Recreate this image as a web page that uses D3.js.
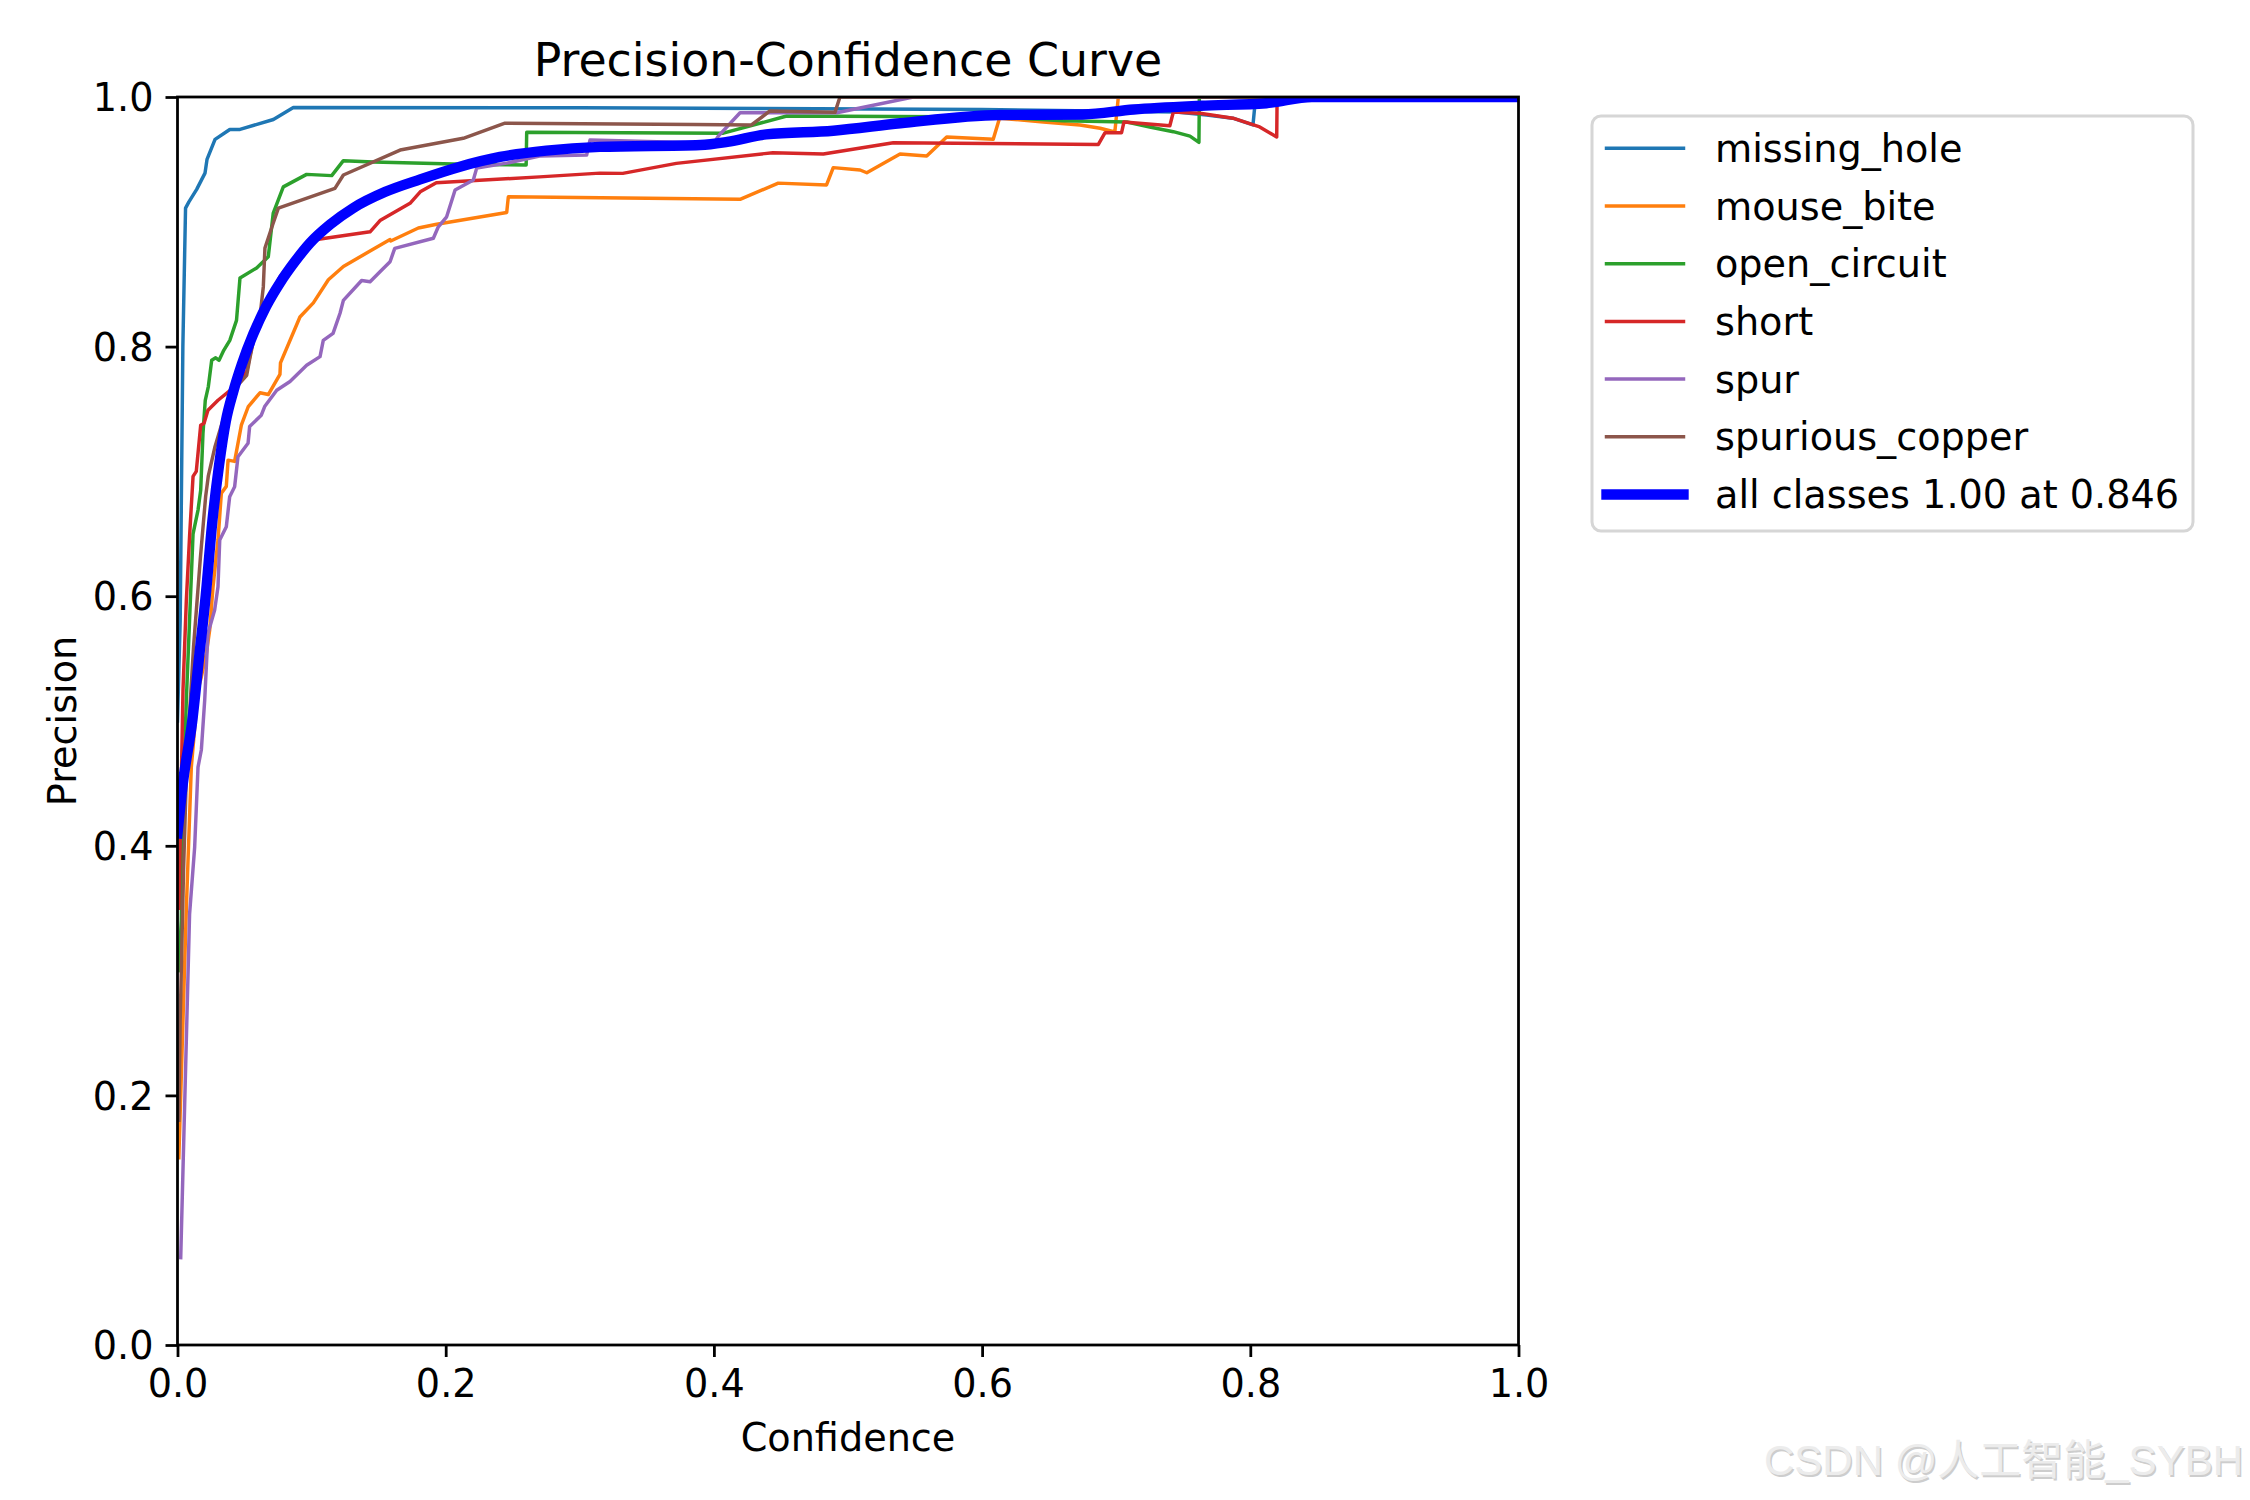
<!DOCTYPE html>
<html>
<head>
<meta charset="utf-8">
<script src="https://cdn.jsdelivr.net/npm/d3@7"></script>
<style>
  html, body { margin: 0; padding: 0; background: #ffffff; }
  svg { display: block; }
</style>
</head>
<body>
<svg id="chart" width="2250" height="1500"></svg>
<script>
// ---------------- DATA (confidence, precision) ----------------
const classNames = ["missing_hole", "mouse_bite", "open_circuit", "short", "spur", "spurious_copper"];
const allClassesLabel = "all classes 1.00 at 0.846";
const xTicks = [0, 0.2, 0.4, 0.6, 0.8, 1.0];
const yTicks = [0, 0.2, 0.4, 0.6, 0.8, 1.0];

const missingHole = [[0,0.50],[0.002,0.58],[0.004,0.80],[0.006,0.911],[0.0085,0.916],[0.0143,0.926],[0.0205,0.939],[0.022,0.950],[0.028,0.966],[0.039,0.974],[0.0466,0.974],[0.0715,0.982],[0.0864,0.9916],[0.30,0.9914],[0.60,0.990],[0.745,0.988],[0.7675,0.9856],[0.787,0.983],[0.802,0.9776],[0.804,1.0],[1.0,1.0]];

const mouseBite = [[0.001,0.15],[0.0066,0.35],[0.0103,0.463],[0.0153,0.525],[0.0178,0.5355],[0.0215,0.554],[0.024,0.573],[0.0265,0.6076],[0.0302,0.645],[0.0327,0.6825],[0.0364,0.688],[0.0377,0.709],[0.0426,0.708],[0.0476,0.737],[0.0528,0.752],[0.0615,0.763],[0.0677,0.7616],[0.0764,0.7777],[0.0768,0.787],[0.0913,0.8237],[0.1013,0.835],[0.1125,0.8536],[0.1237,0.8642],[0.1436,0.8766],[0.1585,0.8858],[0.159,0.8846],[0.1796,0.895],[0.1933,0.898],[0.2455,0.9075],[0.2467,0.920],[0.4195,0.918],[0.448,0.931],[0.484,0.9295],[0.489,0.9434],[0.509,0.9415],[0.514,0.9393],[0.5388,0.9543],[0.5587,0.9527],[0.5736,0.968],[0.6083,0.9661],[0.613,0.983],[0.6457,0.980],[0.673,0.9776],[0.688,0.975],[0.699,0.972],[0.7016,1.0],[1.0,1.0]];

const openCircuit = [[0.001,0.30],[0.0028,0.34],[0.0041,0.437],[0.0066,0.517],[0.0091,0.5836],[0.0116,0.650],[0.0153,0.669],[0.0173,0.685],[0.019,0.7305],[0.0207,0.757],[0.023,0.768],[0.0255,0.789],[0.0285,0.791],[0.031,0.789],[0.0345,0.797],[0.039,0.805],[0.044,0.821],[0.0466,0.855],[0.059,0.863],[0.0677,0.872],[0.0714,0.907],[0.0789,0.928],[0.0963,0.938],[0.115,0.937],[0.1237,0.949],[0.146,0.948],[0.2206,0.946],[0.2600,0.9455],[0.2604,0.9717],[0.407,0.971],[0.4543,0.9848],[0.613,0.984],[0.66,0.981],[0.708,0.980],[0.725,0.976],[0.7426,0.9722],[0.755,0.9687],[0.7617,0.9637],[0.762,1.0],[1.0,1.0]];

const short = [[0.001,0.35],[0.0021,0.41],[0.0041,0.525],[0.0066,0.597],[0.0091,0.650],[0.0116,0.696],[0.014,0.700],[0.0173,0.737],[0.0198,0.7385],[0.0227,0.749],[0.0302,0.757],[0.0416,0.767],[0.0516,0.780],[0.056,0.803],[0.0615,0.8235],[0.069,0.840],[0.0764,0.856],[0.0814,0.8627],[0.0889,0.868],[0.0963,0.877],[0.0988,0.885],[0.1436,0.892],[0.151,0.901],[0.1734,0.9148],[0.181,0.924],[0.193,0.9313],[0.270,0.936],[0.315,0.939],[0.332,0.9388],[0.372,0.9468],[0.444,0.9554],[0.4816,0.9543],[0.5338,0.9634],[0.6867,0.962],[0.6917,0.9714],[0.704,0.9714],[0.7058,0.980],[0.740,0.977],[0.7426,0.988],[0.7625,0.987],[0.787,0.983],[0.807,0.976],[0.8197,0.968],[0.820,1.0],[1.0,1.0]];

const spur = [[0.0024,0.07],[0.009,0.345],[0.0128,0.399],[0.0153,0.463],[0.0178,0.477],[0.0203,0.517],[0.0227,0.570],[0.0277,0.589],[0.0302,0.6076],[0.0315,0.645],[0.0364,0.6557],[0.0389,0.6797],[0.0426,0.6877],[0.0451,0.7118],[0.0526,0.7225],[0.0538,0.736],[0.0625,0.745],[0.065,0.752],[0.074,0.765],[0.0839,0.772],[0.0963,0.785],[0.1063,0.792],[0.1087,0.805],[0.116,0.8106],[0.1212,0.8267],[0.1237,0.837],[0.1373,0.853],[0.1436,0.852],[0.151,0.860],[0.1585,0.868],[0.162,0.8787],[0.1908,0.8868],[0.1945,0.896],[0.2007,0.904],[0.207,0.9255],[0.2206,0.9335],[0.2231,0.943],[0.2455,0.947],[0.270,0.9527],[0.3051,0.9535],[0.3076,0.9655],[0.400,0.963],[0.4033,0.9687],[0.4195,0.9874],[0.4916,0.9874],[0.5487,1.0],[1.0,1.0]];

const spuriousCopper = [[0.001,0.18],[0.002,0.26],[0.0045,0.38],[0.007,0.47],[0.012,0.56],[0.017,0.63],[0.021,0.68],[0.023,0.6965],[0.028,0.72],[0.035,0.745],[0.0416,0.765],[0.0516,0.777],[0.054,0.791],[0.059,0.817],[0.0615,0.824],[0.064,0.848],[0.0652,0.879],[0.0714,0.899],[0.0752,0.911],[0.1174,0.9268],[0.1237,0.9375],[0.166,0.9575],[0.2131,0.9669],[0.2442,0.979],[0.3846,0.978],[0.428,0.9776],[0.4418,0.9888],[0.4903,0.9877],[0.494,1.0],[1.0,1.0]];

const allClasses = [[0.0,0.41],[0.004,0.45],[0.011,0.50],[0.016,0.55],[0.021,0.60],[0.026,0.66],[0.031,0.705],[0.036,0.740],[0.0416,0.764],[0.048,0.786],[0.0565,0.810],[0.066,0.832],[0.0764,0.851],[0.0875,0.868],[0.0988,0.883],[0.114,0.898],[0.131,0.911],[0.155,0.924],[0.181,0.934],[0.21,0.944],[0.2405,0.952],[0.275,0.957],[0.315,0.960],[0.390,0.9615],[0.41,0.964],[0.439,0.970],[0.489,0.973],[0.539,0.979],[0.613,0.9856],[0.675,0.986],[0.713,0.990],[0.763,0.993],[0.812,0.995],[0.846,1.0],[1.0,1.0]];

const classSeries = [missingHole, mouseBite, openCircuit, short, spur, spuriousCopper];
const classColors = ["#1f77b4", "#ff7f0e", "#2ca02c", "#d62728", "#9467bd", "#8c564b"];
const allColor = "#0000ff";

// ---------------- LAYOUT ----------------
const FONT = "'DejaVu Sans', sans-serif";
const FS = 38.2;
const L = 177.5, R = 1518.5, T = 97, B = 1345;

const svg = d3.select("#chart");
svg.append("rect").attr("width", 2250).attr("height", 1500).attr("fill", "#fff");

const x = d3.scaleLinear().domain([0, 1]).range([L, R]);
const y = d3.scaleLinear().domain([0, 1]).range([B, T]);

svg.append("defs").append("clipPath").attr("id", "plotclip")
  .append("rect").attr("x", L).attr("y", T).attr("width", R - L).attr("height", B - T);

const line = d3.line().x(d => x(d[0])).y(d => y(d[1])).curve(d3.curveLinear);
const smoothLine = d3.line().x(d => x(d[0])).y(d => y(d[1])).curve(d3.curveMonotoneX);

const plot = svg.append("g").attr("clip-path", "url(#plotclip)");
classSeries.forEach((s, i) => {
  plot.append("path").attr("d", line(s)).attr("fill", "none")
    .attr("stroke", classColors[i]).attr("stroke-width", 3.47)
    .attr("stroke-linejoin", "round").attr("stroke-linecap", "square");
});
plot.append("path").attr("d", smoothLine(allClasses)).attr("fill", "none")
  .attr("stroke", allColor).attr("stroke-width", 10.4)
  .attr("stroke-linejoin", "round").attr("stroke-linecap", "square");

// axes
const fmt = d3.format(".1f");
const gx = svg.append("g").attr("transform", `translate(0,${B})`)
  .call(d3.axisBottom(x).tickValues(xTicks).tickFormat(fmt).tickSize(12).tickPadding(13));
const gy = svg.append("g").attr("transform", `translate(${L},0)`)
  .call(d3.axisLeft(y).tickValues(yTicks).tickFormat(fmt).tickSize(12).tickPadding(12));
[gx, gy].forEach(g => {
  g.select(".domain").remove();
  g.selectAll(".tick line").attr("stroke", "#000").attr("stroke-width", 2.78);
  g.selectAll(".tick text").attr("fill", "#000").style("font-family", FONT).style("font-size", FS + "px");
});
gy.selectAll(".tick text").attr("dy", "0.36em");

// spines
svg.append("rect").attr("x", L).attr("y", T).attr("width", R - L).attr("height", B - T)
  .attr("fill", "none").attr("stroke", "#000").attr("stroke-width", 2.78);

// title and labels
svg.append("text").attr("x", (L + R) / 2).attr("y", 76).attr("text-anchor", "middle")
  .style("font-family", FONT).style("font-size", (FS * 1.2) + "px").text("Precision-Confidence Curve");
svg.append("text").attr("x", (L + R) / 2).attr("y", 1451).attr("text-anchor", "middle")
  .style("font-family", FONT).style("font-size", FS + "px").text("Confidence");
svg.append("text").attr("transform", `translate(76,${(T + B) / 2}) rotate(-90)`).attr("text-anchor", "middle")
  .style("font-family", FONT).style("font-size", FS + "px").text("Precision");

// legend
const legendLabels = classNames.concat([allClassesLabel]);
const legendColors = classColors.concat([allColor]);
const lg = svg.append("g");
lg.append("rect").attr("x", 1592).attr("y", 116).attr("width", 601).attr("height", 415).attr("rx", 9)
  .attr("fill", "#fff").attr("fill-opacity", 0.8).attr("stroke", "#d6d6d6").attr("stroke-width", 3);
legendLabels.forEach((lab, i) => {
  const yy = 148.3 + i * 57.7;
  const last = i === legendLabels.length - 1;
  lg.append("line").attr("x1", 1606.5).attr("x2", 1683.5).attr("y1", yy).attr("y2", yy)
    .attr("stroke", legendColors[i]).attr("stroke-width", last ? 10.4 : 3.47).attr("stroke-linecap", "square");
  lg.append("text").attr("x", 1715).attr("y", yy + 13.5)
    .style("font-family", FONT).style("font-size", FS + "px").text(lab);
});

// watermark
const wm = "CSDN @人工智能_SYBH";
const WMFONT = "'Liberation Sans', Arial, 'Noto Sans CJK SC', sans-serif";
svg.append("text").attr("x", 2244.5).attr("y", 1476.5).attr("text-anchor", "end")
  .style("font-family", WMFONT).style("font-size", "42px").attr("fill", "#cdcdcd").text(wm);
svg.append("text").attr("x", 2243).attr("y", 1475).attr("text-anchor", "end")
  .style("font-family", WMFONT).style("font-size", "42px").attr("fill", "#ececec").text(wm);
</script>
</body>
</html>
